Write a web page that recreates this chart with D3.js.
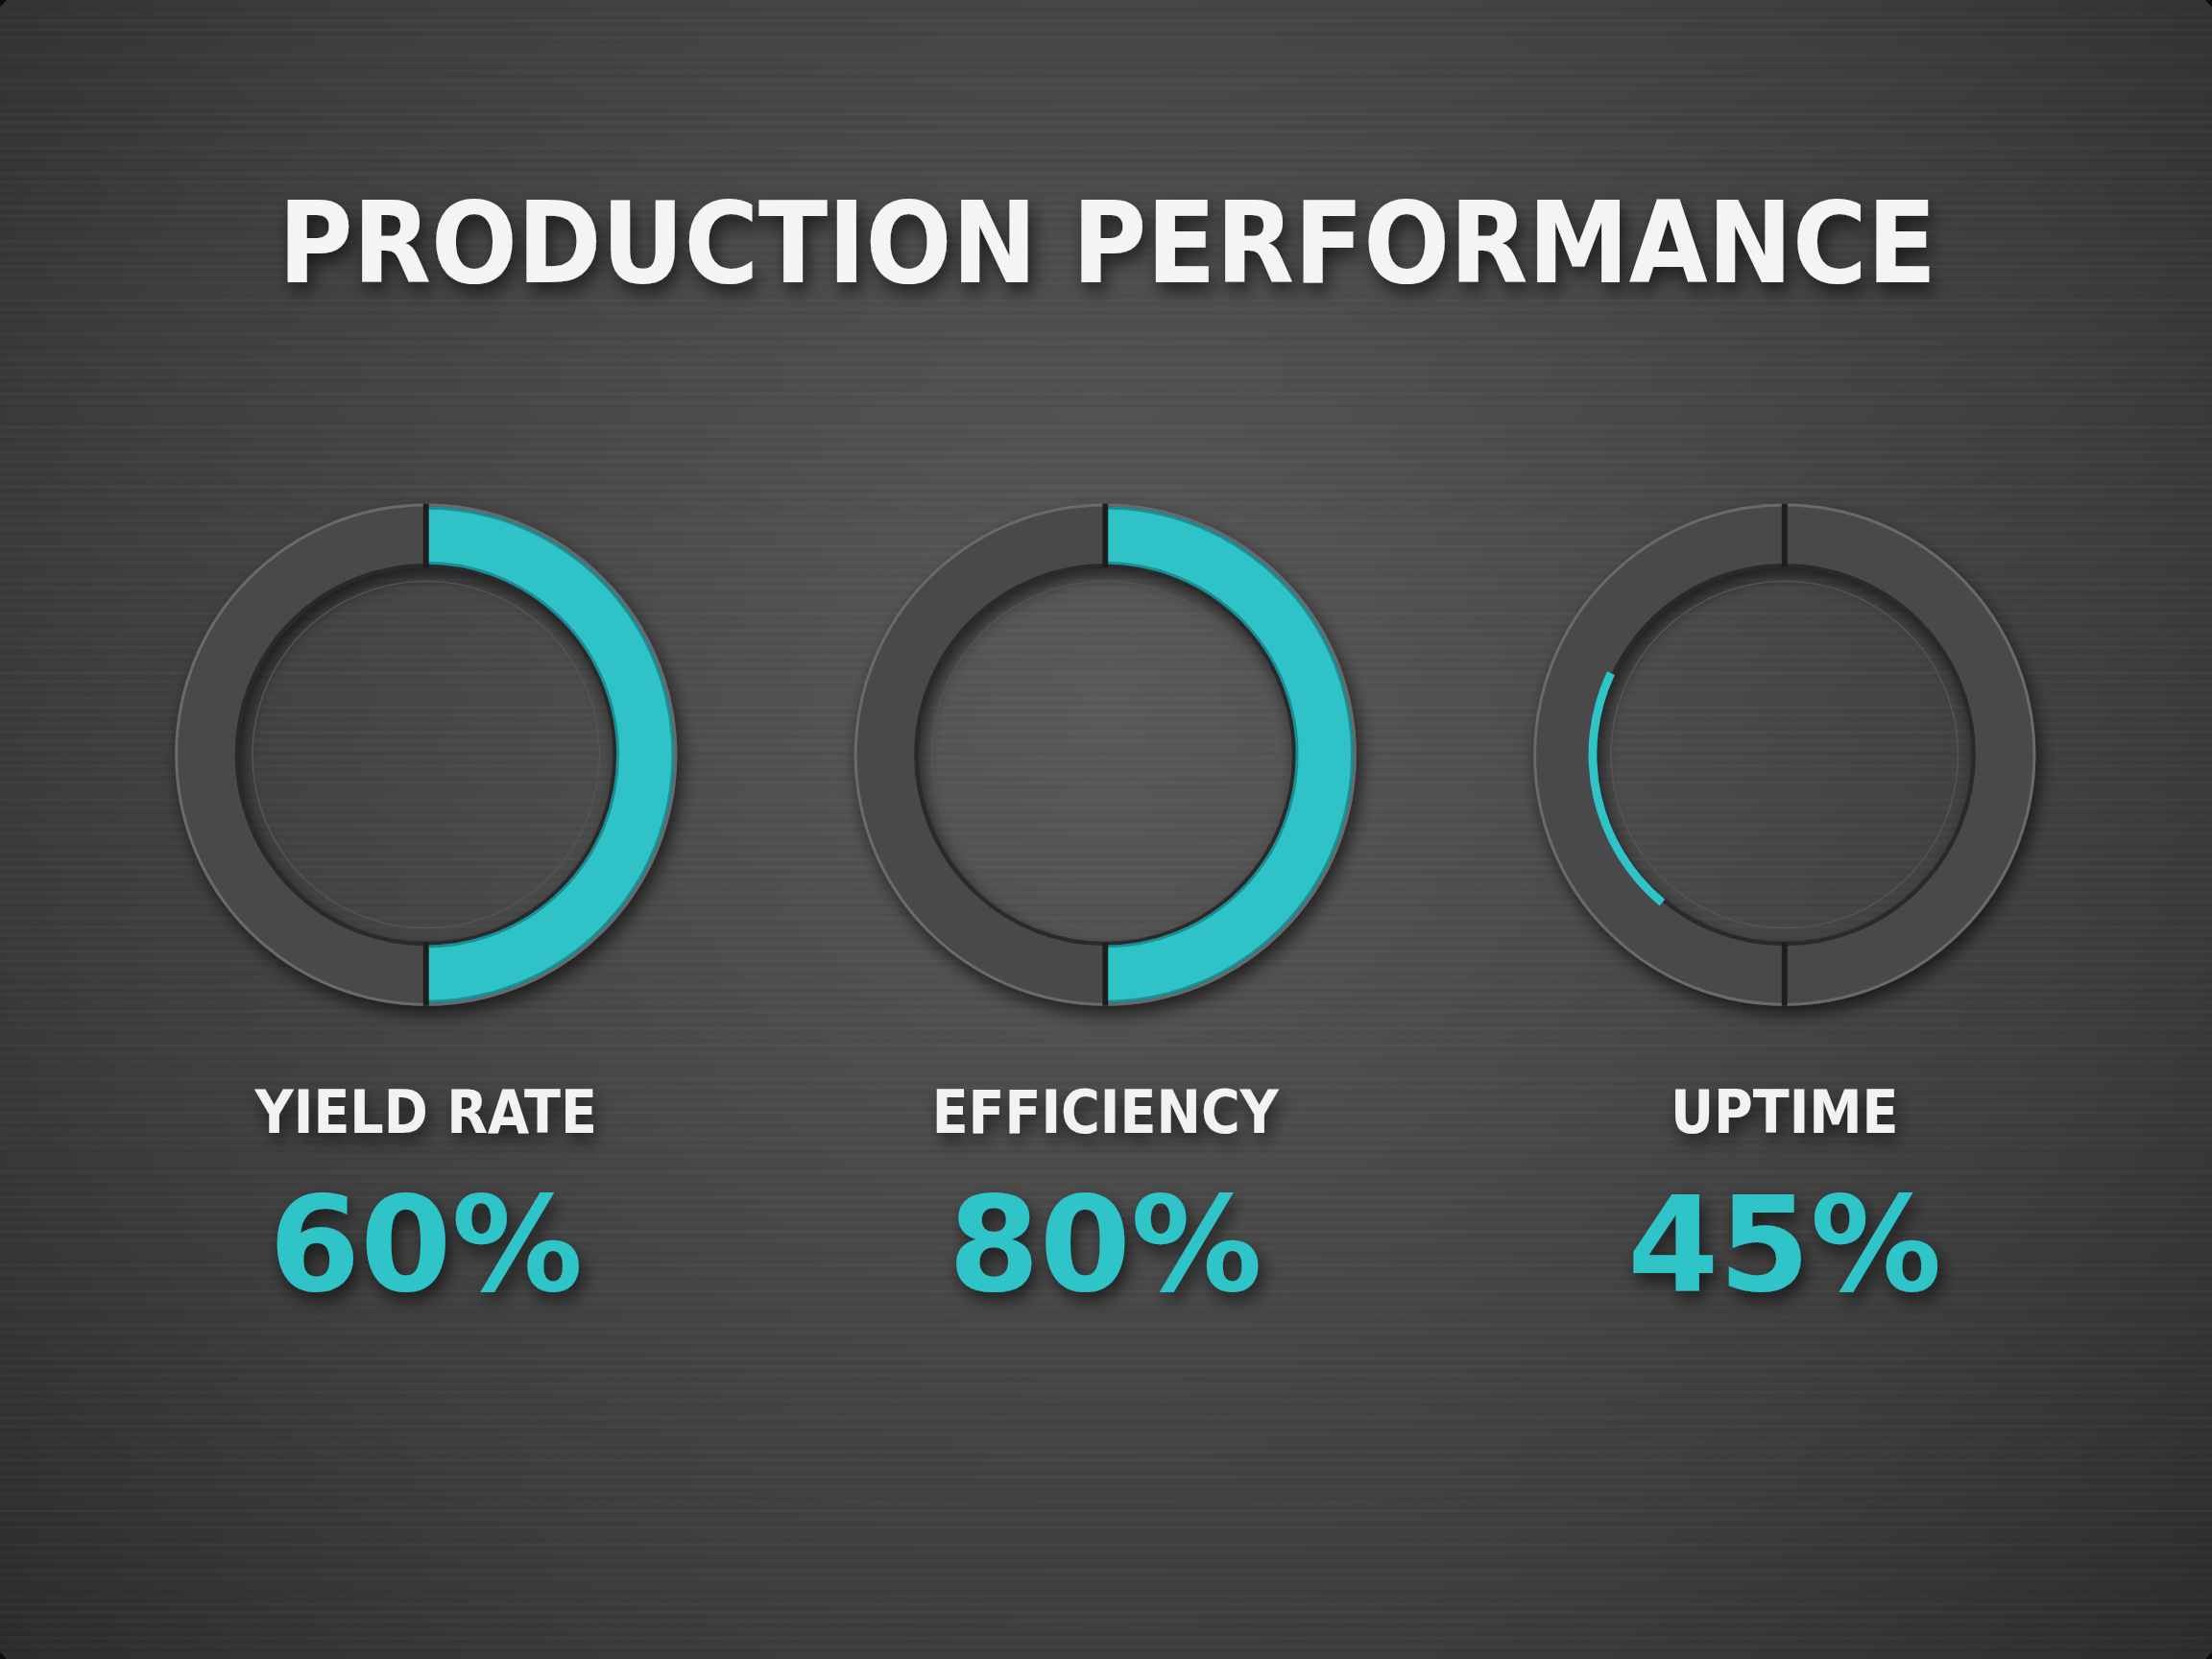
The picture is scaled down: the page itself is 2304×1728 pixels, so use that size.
<!DOCTYPE html><html><head><meta charset="utf-8"><script src="https://cdn.jsdelivr.net/npm/d3@7"></script>
<style>html,body{margin:0;padding:0;background:#111}</style></head><body><script>
const title = "PRODUCTION PERFORMANCE";
const metrics = ["YIELD RATE","EFFICIENCY","UPTIME"];
const values = [60,80,45];
// teal arc extents as drawn in the picture (fraction of full turn)
const arcStart = [0,0,0.61];
const arcEnd = [0.5,0.5,0.82];
const arcThin = [false,false,true];

const W=1568,H=1176;
const svg=d3.select("body").append("svg").attr("width",2304).attr("height",1728).attr("viewBox",`0 0 ${W} ${H}`);
const defs=svg.append("defs");
const bg=defs.append("radialGradient").attr("id","bg").attr("cx","50%").attr("cy","45%").attr("r","60%");
bg.append("stop").attr("offset","0%").attr("stop-color","#5a5a5a");
bg.append("stop").attr("offset","60%").attr("stop-color","#3e3e3e");
bg.append("stop").attr("offset","100%").attr("stop-color","#262626");
const f=defs.append("filter").attr("id","sh").attr("x","-20%").attr("y","-20%").attr("width","140%").attr("height","140%");
f.append("feDropShadow").attr("dx",3).attr("dy",6).attr("stdDeviation",6).attr("flood-color","#000").attr("flood-opacity",0.6);
svg.append("rect").attr("width",W).attr("height",H).attr("fill","#161616");
svg.append("ellipse").attr("cx",W/2).attr("cy",H/2).attr("rx",W*0.64).attr("ry",H*0.80).attr("fill","url(#bg)").attr("stroke","#0c0c0c").attr("stroke-width",6);
const ys=d3.range(0,H,3);
svg.append("g").selectAll("line").data(ys).join("line").attr("x1",0).attr("x2",W).attr("y1",d=>d).attr("y2",d=>d)
 .attr("stroke",(d,i)=>i%2?"#ffffff":"#000000").attr("stroke-opacity",(d,i)=>0.015+((i*37)%11)/400);
svg.append("text").attr("x",785).attr("y",200).attr("text-anchor","middle").attr("font-family","DejaVu Sans Condensed").attr("font-weight","bold")
 .attr("font-size",80).attr("fill","#f4f4f4").attr("filter","url(#sh)").text(title);
const x=d3.scalePoint().domain(metrics).range([302,1265]);
const ang=d3.scaleLinear().domain([0,1]).range([0,2*Math.PI]);
const ro=178,ri=133;
metrics.forEach((m,i)=>{
 const g=svg.append("g").attr("transform",`translate(${x(m)},535)`);
 g.append("path").attr("d",d3.arc()({innerRadius:ri,outerRadius:ro,startAngle:0,endAngle:2*Math.PI})).attr("fill","#4a4a4c").attr("filter","url(#sh)");
 g.append("circle").attr("r",ro-1).attr("fill","none").attr("stroke","#6a6a6c").attr("stroke-width",2);
 g.append("circle").attr("r",ri+1).attr("fill","none").attr("stroke","#2a2a2a").attr("stroke-width",3);
 g.append("circle").attr("r",ri-10).attr("fill","none").attr("stroke","#555").attr("stroke-width",1);
 if(arcThin[i]){
  g.append("path").attr("d",d3.arc()({innerRadius:ri,outerRadius:ri+6,startAngle:ang(arcStart[i]),endAngle:ang(arcEnd[i])})).attr("fill","#2ec4c8");
 } else {
  g.append("path").attr("d",d3.arc()({innerRadius:ri+3,outerRadius:ro-3,startAngle:ang(arcStart[i]),endAngle:ang(arcEnd[i])})).attr("fill","#2fc3c8").attr("stroke","#1a8f95").attr("stroke-width",2);
 }
 [0,0.5].forEach(a=>{const t=ang(a);g.append("line").attr("x1",Math.sin(t)*ri).attr("y1",-Math.cos(t)*ri).attr("x2",Math.sin(t)*ro).attr("y2",-Math.cos(t)*ro).attr("stroke","#1e1e1e").attr("stroke-width",4);});
 svg.append("text").attr("x",x(m)).attr("y",803).attr("text-anchor","middle").attr("font-family","DejaVu Sans Condensed").attr("font-weight","bold")
  .attr("font-size",42).attr("fill","#f2f2f2").attr("filter","url(#sh)").text(m);
 svg.append("text").attr("x",x(m)).attr("y",915).attr("text-anchor","middle").attr("font-family","DejaVu Sans").attr("font-weight","bold")
  .attr("font-size",93).attr("fill","#2ec4c8").attr("filter","url(#sh)").text(values[i]+"%");
});
</script></body></html>
